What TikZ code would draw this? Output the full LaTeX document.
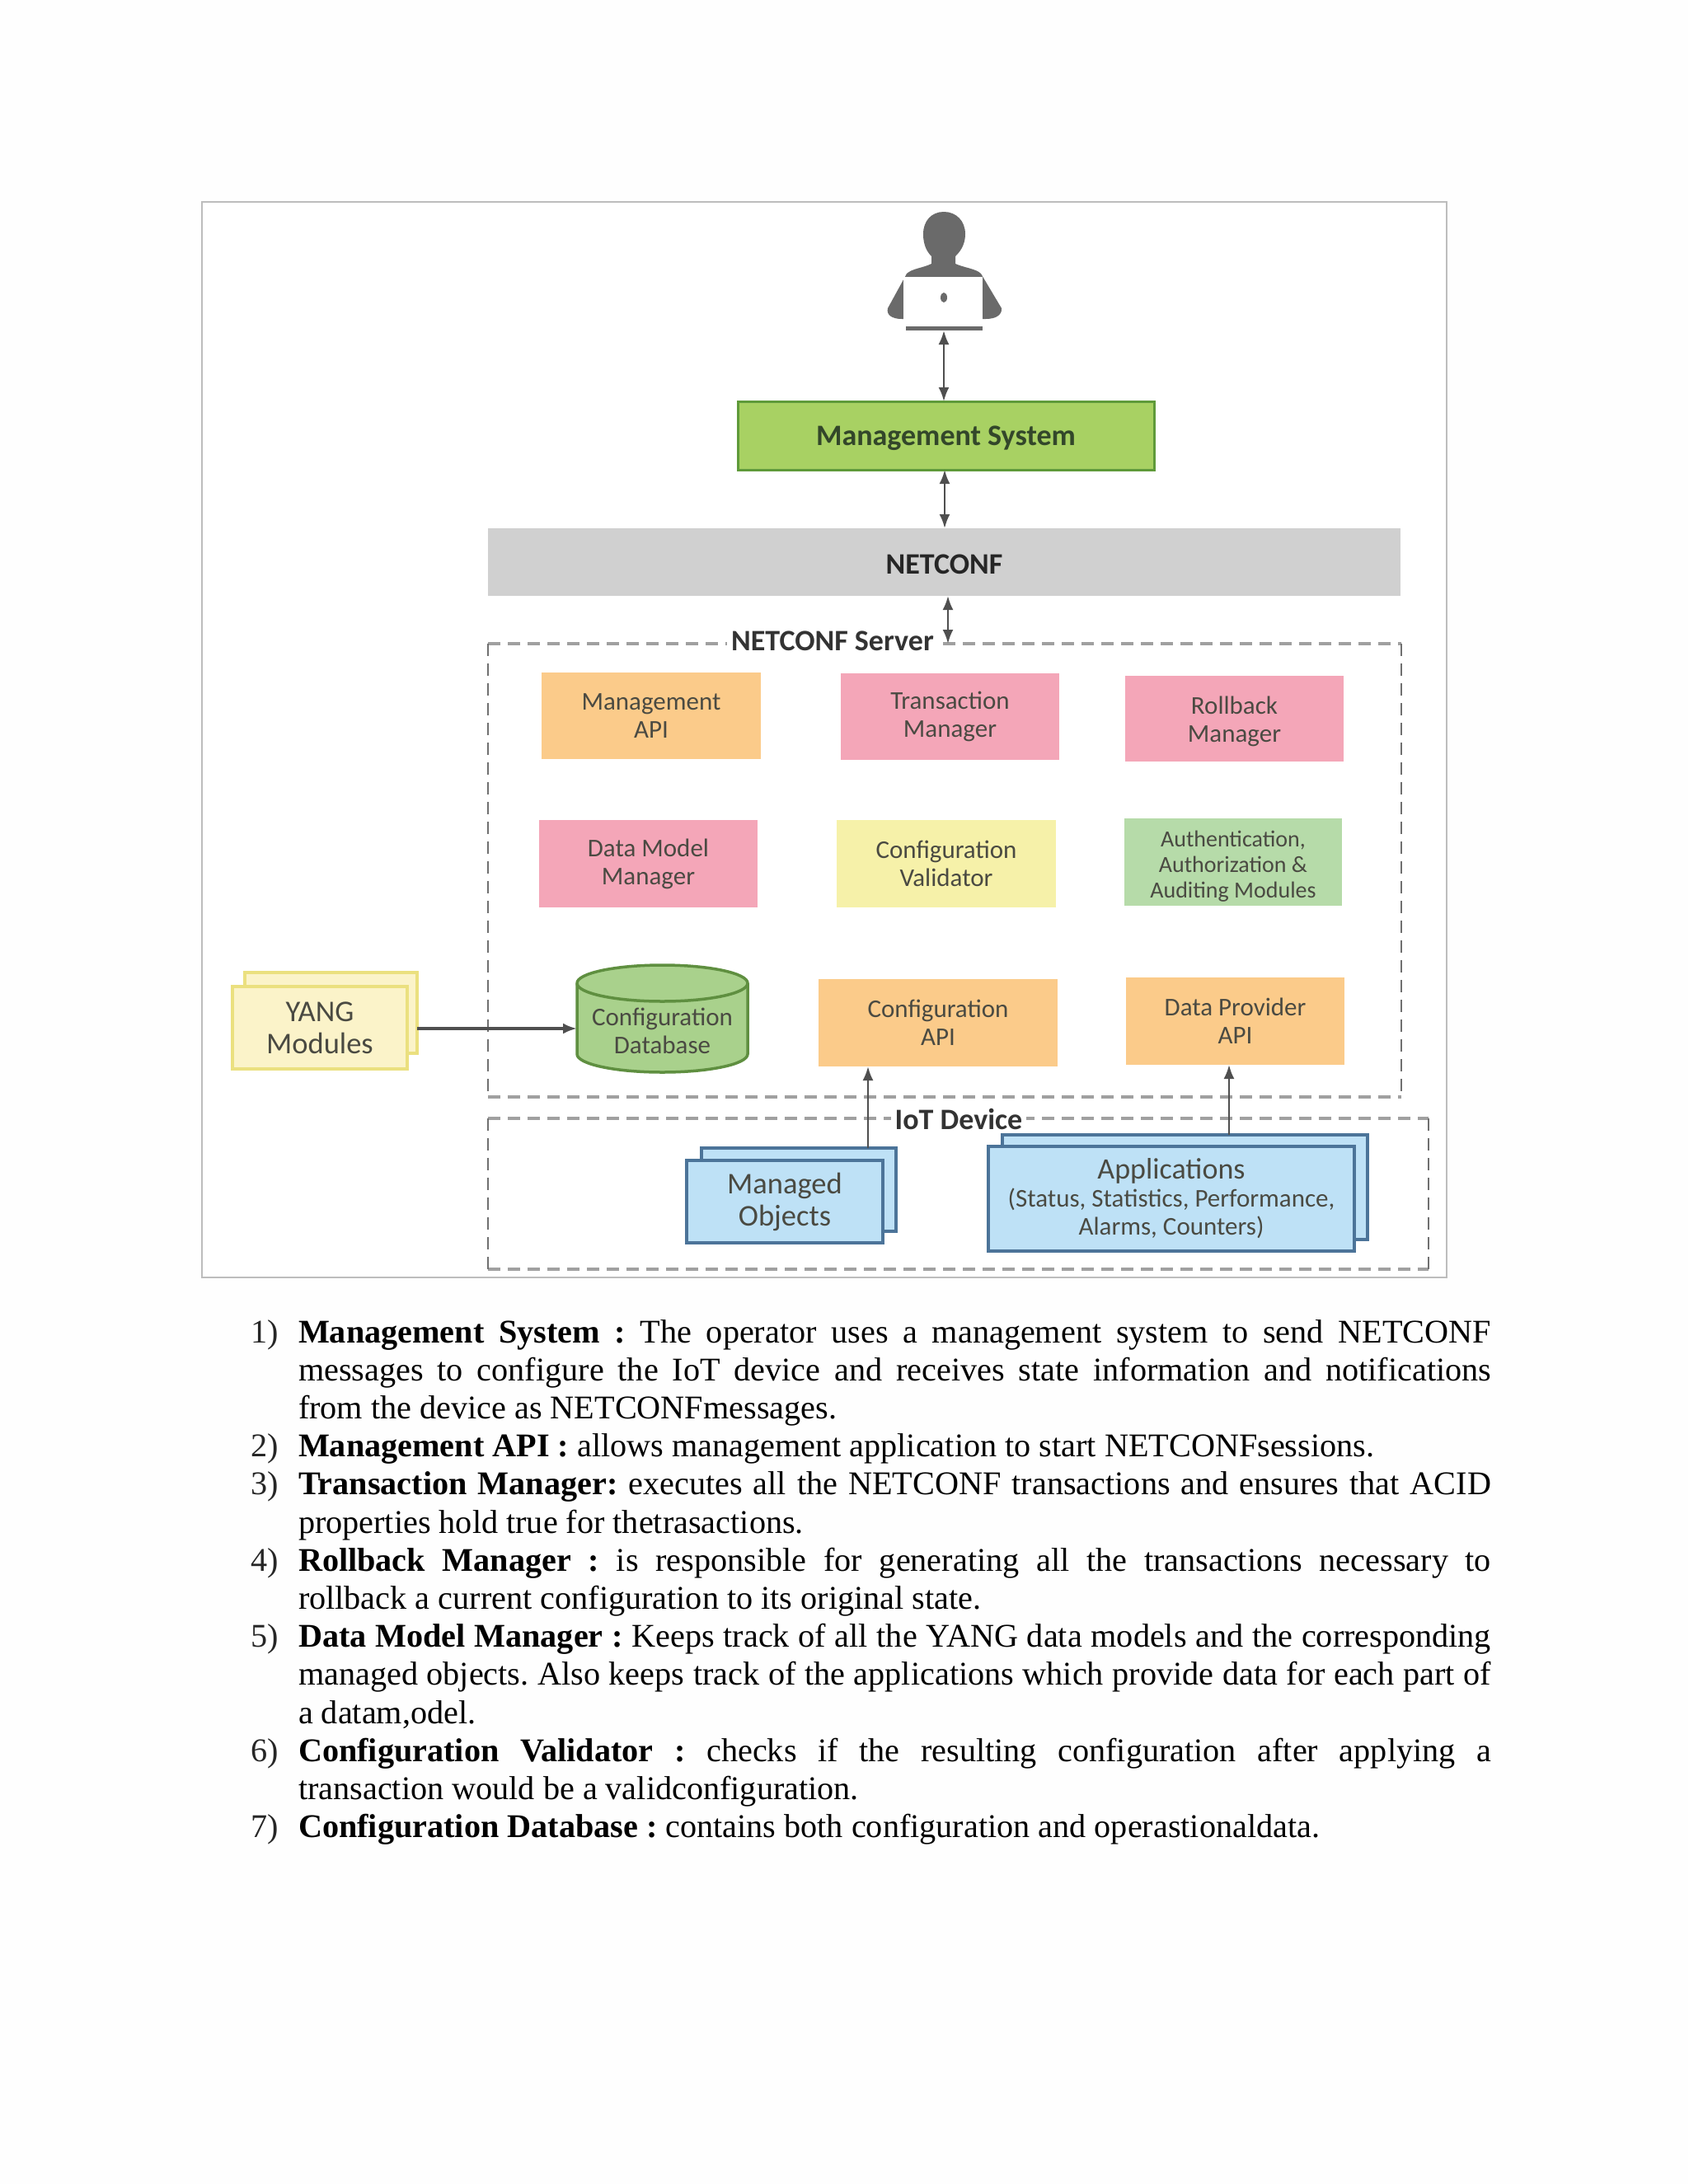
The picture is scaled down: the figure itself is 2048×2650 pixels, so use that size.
\documentclass[tikz,border=0pt]{standalone}
\usepackage{fontspec}
\setmainfont{Liberation Serif}
\newfontfamily\boxfont{Carlito}
\usetikzlibrary{arrows.meta,calc}
\AtBeginDocument{\frenchspacing}
\definecolor{pagebg}{HTML}{FEFEFE}
\definecolor{inktxt}{HTML}{4A4A42}
\definecolor{framec}{HTML}{BDBDBD}
\definecolor{dashc}{HTML}{A0A0A0}
\definecolor{arrc}{HTML}{4F4F4F}
\definecolor{msfill}{HTML}{A8D163}
\definecolor{msline}{HTML}{5F9A3A}
\definecolor{mstext}{HTML}{33472A}
\definecolor{ncfill}{HTML}{D0D0D0}
\definecolor{orangef}{HTML}{FBCB8A}
\definecolor{pinkf}{HTML}{F4A6B8}
\definecolor{yellowf}{HTML}{F6F1A9}
\definecolor{greenf}{HTML}{B6DBA9}
\definecolor{bluef}{HTML}{BEE1F6}
\definecolor{blueline}{HTML}{4C7499}
\definecolor{yangf}{HTML}{FBF3C9}
\definecolor{yangl}{HTML}{EBE07F}
\definecolor{dbf}{HTML}{A9D18C}
\definecolor{dbl}{HTML}{5F8F40}
\definecolor{personc}{HTML}{6A6A6A}
\tikzset{
  bx/.style={rectangle,inner sep=0pt,outer sep=0pt,align=center,text=inktxt,
    font=\boxfont\fontsize{31}{34}\selectfont},
  smallbx/.style={font=\boxfont\fontsize{28}{31}\selectfont},
  boldbx/.style={text=#1,font=\boxfont\bfseries\fontsize{36}{40}\selectfont},
  bigbx/.style={font=\boxfont\fontsize{36.5}{39}\selectfont},
  dashh/.style={draw=dashc,line width=4.5pt,dash pattern=on 15pt off 9pt},
  dashv/.style={draw=dashc!70!black,line width=2pt,dash pattern=on 15pt off 9pt},
  arr/.style={draw=arrc,line width=2.6pt,-{Latex[length=17pt,width=13pt]}},
  dblarr/.style={draw=arrc,line width=2.6pt,{Latex[length=17pt,width=13pt]}-{Latex[length=17pt,width=13pt]}},
  lab/.style={fill=white,inner sep=5pt,text=black!80,font=\boxfont\bfseries\fontsize{36}{40}\selectfont},
  txtline/.style={anchor=base west,inner sep=0pt,outer sep=0pt,font=\fontsize{40.2}{46}\selectfont,text=black},
  numline/.style={anchor=base west,inner sep=0pt,outer sep=0pt,font=\fontsize{40.2}{46}\selectfont,text=black!85},
}
\newcommand{\boxn}[6]{\node[bx,#6,minimum width={(#4-#2)*1pt},minimum height={(#5-#3)*1pt}]
  (#1) at ({(#2+#4)/2},{(#3+#5)/2})}
\newcommand{\jl}[1]{\makebox[1447pt][s]{#1}}
\begin{document}
\begin{tikzpicture}[x=1pt,y=-1pt]
\useasboundingbox (0,0) rectangle (2048,2650);
\fill[pagebg] (0,0) rectangle (2048,2650);
\fill[white] (245,245) rectangle (1755,1550);
\draw[framec,line width=1.8pt] (245,245) rectangle (1755,1550);

% person
\fill[personc] (1145,257) .. controls (1160,257) and (1171,268) .. (1171,284)
  .. controls (1171,298) and (1164,306) .. (1159,311) -- (1159,320)
  .. controls (1170,325) and (1184,326) .. (1190,332)
  -- (1215,374) .. controls (1216,382) and (1208,387) .. (1196,387) -- (1094,387)
  .. controls (1082,387) and (1075,382) .. (1077,374)
  -- (1100,332) .. controls (1106,326) and (1120,325) .. (1130,320) -- (1130,311)
  .. controls (1125,306) and (1120,298) .. (1120,284)
  .. controls (1120,268) and (1130,257) .. (1145,257) -- cycle;
\fill[white] (1096,336) rectangle (1192,394);
\fill[personc] (1145,361) ellipse (4 and 6);
\node[rectangle,fill=personc,minimum width=93pt,minimum height=5pt,inner sep=0pt,outer sep=0pt] (person) at (1145,398.5) {};

\boxn{ms}{895}{487}{1400}{570}{fill=msfill,draw=msline,line width=3pt,label={[bx,boldbx=mstext,yshift=-3pt]center:{Management System}}}{};
\boxn{nc}{592}{641}{1699}{723}{fill=ncfill,label={[bx,boldbx=black!85,yshift=-3pt]center:{NETCONF}}}{};

% dashed containers
\coordinate (srvNW) at (592,781);
\coordinate (srvSE) at (1700,1331);
\draw[dashh] (srvNW) -- (srvNW -| srvSE);
\draw[dashh] (srvNW |- srvSE) -- (srvSE);
\draw[dashv] (srvNW) -- (srvNW |- srvSE);
\draw[dashv] (srvNW -| srvSE) -- (srvSE);
\coordinate (iotNW) at (592,1357);
\coordinate (iotSE) at (1733,1540);
\draw[dashh] (iotNW) -- (iotNW -| iotSE);
\draw[dashh] (iotNW |- iotSE) -- (iotSE);
\draw[dashv] (iotNW) -- (iotNW |- iotSE);
\draw[dashv] (iotNW -| iotSE) -- (iotSE);
\node[lab] (srvlab) at (1010,778) {NETCONF Server};
\node[lab] (iotlab) at (1163,1358) {IoT Device};

\boxn{mapi}{657}{816}{923}{921}{fill=orangef}{Management\\API};
\boxn{tm}{1020}{817}{1285}{922}{fill=pinkf}{Transaction\\Manager};
\boxn{rm}{1365}{820}{1630}{924}{fill=pinkf,label={[bx,yshift=-3pt]center:{Rollback\\Manager}}}{};
\boxn{dmm}{654}{995}{919}{1101}{fill=pinkf}{Data Model\\Manager};
\boxn{cv}{1015}{995}{1281}{1101}{fill=yellowf}{Configuration\\Validator};
\boxn{aaa}{1364}{993}{1628}{1099}{fill=greenf,label={[bx,smallbx,yshift=-5pt]center:{Authentication,\\Authorization \&\\Auditing Modules}}}{};
\boxn{capi}{993}{1188}{1283}{1294}{fill=orangef}{Configuration\\API};
\boxn{dpapi}{1366}{1186}{1631}{1292}{fill=orangef}{Data Provider\\API};

% database
\fill[dbf,draw=dbl,line width=3.5pt] (700,1193) -- (700,1279) arc[start angle=180,end angle=0,x radius=103.5,y radius=22]
  -- (907,1193) arc[start angle=0,end angle=-180,x radius=103.5,y radius=22] -- cycle;
\draw[dbl,line width=3.5pt] (700,1193) arc[start angle=180,end angle=0,x radius=103.5,y radius=22];
\boxn{db}{700}{1171}{907}{1301}{yshift=-15pt}{Configuration\\Database};

% stacked boxes
\boxn{yangb}{297}{1180}{506}{1278}{fill=yangf,draw=yangl,line width=3.5pt}{};
\boxn{yang}{282}{1197}{494}{1297}{fill=yangf,draw=yangl,line width=3.5pt,bigbx}{YANG\\Modules};
\boxn{mob}{851}{1393}{1087}{1494}{fill=bluef,draw=blueline,line width=3.5pt}{};
\boxn{mo}{833}{1408}{1071}{1508}{fill=bluef,draw=blueline,line width=3.5pt,bigbx}{Managed\\Objects};
\boxn{appb}{1216}{1377}{1659}{1504}{fill=bluef,draw=blueline,line width=3.5pt}{};
\boxn{app}{1199}{1391}{1643}{1518}{fill=bluef,draw=blueline,line width=3.5pt,font=\boxfont\fontsize{31}{34}\selectfont}{{\fontsize{36}{40}\selectfont Applications}\\(Status, Statistics, Performance,\\Alarms, Counters)};

% connectors
\draw[dblarr] (person.south) -- (person.south |- ms.north);
\coordinate (msx) at (1146,0);
\draw[dblarr] (ms.south -| msx) -- (nc.north -| msx);
\coordinate (ncin) at (1150,781);
\draw[dblarr] (nc.south -| ncin) -- (ncin);
\coordinate (yrow) at (0,1248);
\draw[arr,line width=3.4pt] (yangb.east |- yrow) -- (db.west |- yrow);
\coordinate (mox) at (1053,1393);
\draw[arr] (mox) -- (mox |- capi.south);
\coordinate (apx) at (1491,1377);
\draw[arr] (apx) -- (apx |- dpapi.south);

% list text
\node[numline] (n1) at (304.5,1629) {1)};
\node[txtline] (t1) at (362,1629) {\jl{\textbf{Management System :} The operator uses a management system to send NETCONF}};
\node[txtline] (t1b) at (362,1675.2) {\jl{messages to configure the IoT device and receives state information and notifications}};
\node[txtline] (t1c) at (362,1721.4) {from the device as NETCONFmessages.};
\node[numline] (n2) at (304.5,1767.6) {2)};
\node[txtline] (t2) at (362,1767.6) {\textbf{Management API :} allows management application to start NETCONFsessions.};
\node[numline] (n3) at (304.5,1813.8) {3)};
\node[txtline] (t3) at (362,1813.8) {\jl{\textbf{Transaction Manager:} executes all the NETCONF transactions and ensures that ACID}};
\node[txtline] (t3b) at (362,1860) {properties hold true for thetrasactions.};
\node[numline] (n4) at (304.5,1906.2) {4)};
\node[txtline] (t4) at (362,1906.2) {\jl{\textbf{Rollback Manager :} is responsible for generating all the transactions necessary to}};
\node[txtline] (t4b) at (362,1952.4) {rollback a current configuration to its original state.};
\node[numline] (n5) at (304.5,1998.6) {5)};
\node[txtline] (t5) at (362,1998.6) {\jl{\textbf{Data Model Manager :} Keeps track of all the YANG data models and the corresponding}};
\node[txtline] (t5b) at (362,2044.8) {\jl{managed objects. Also keeps track of the applications which provide data for each part of}};
\node[txtline] (t5c) at (362,2091) {a datam,odel.};
\node[numline] (n6) at (304.5,2137.2) {6)};
\node[txtline] (t6) at (362,2137.2) {\jl{\textbf{Configuration Validator :} checks if the resulting configuration after applying a}};
\node[txtline] (t6b) at (362,2183.4) {transaction would be a validconfiguration.};
\node[numline] (n7) at (304.5,2229.6) {7)};
\node[txtline] (t7) at (362,2229.6) {\textbf{Configuration Database :} contains both configuration and operastionaldata.};
\end{tikzpicture}
\end{document}
